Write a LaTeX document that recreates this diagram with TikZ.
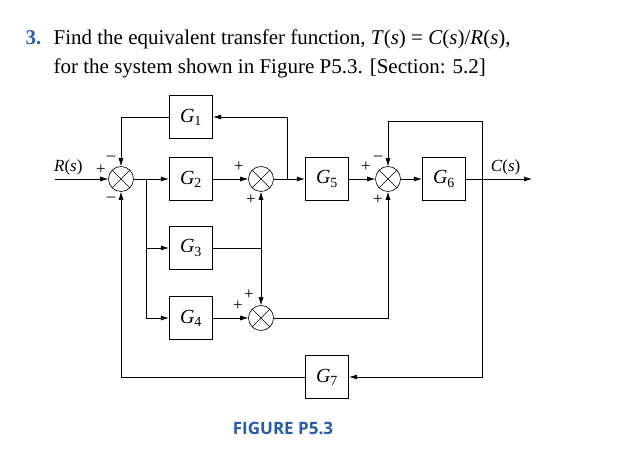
\documentclass[tikz,border=0pt]{standalone}
\usepackage{fontspec}
\setmainfont{Liberation Serif}
\newfontfamily\figsans{Open Sans}
\usetikzlibrary{positioning,arrows.meta}
\definecolor{headblue}{RGB}{38,92,170}
\newcommand{\gsub}[1]{\textit{G}\textsubscript{#1}}
\tikzstyle{block}=[draw,line width=1.4pt,minimum width=43pt,minimum height=43pt,font=\fontsize{20}{20}\selectfont]
\tikzstyle{sum}=[draw,circle,minimum size=25pt,inner sep=0pt,path picture={\draw (path picture bounding box.south west)--(path picture bounding box.north east) (path picture bounding box.north west)--(path picture bounding box.south east);}]
\tikzstyle{sig}=[-{Latex[length=8pt,width=5pt]},line width=0.6pt]
\tikzstyle{sgn}=[font=\fontsize{17}{17}\selectfont,inner sep=1pt]

\begin{document}
\begin{tikzpicture}[x=1pt,y=-1pt,line width=0.6pt]
	\useasboundingbox (0,0) rectangle (633,454);

	% question text
	\node[anchor=base west,font=\fontsize{21}{21}\selectfont,text=headblue] at (22,45) {\textbf{3.}};
	\node[anchor=base west,font=\fontsize{21}{21}\selectfont] at (50,45) {Find the equivalent transfer function, \textit{T}(\textit{s}) = \textit{C}(\textit{s})/\textit{R}(\textit{s}),};
	\node[anchor=base west,font=\fontsize{21}{21}\selectfont] at (50,74) {for the system shown in Figure P5.3. [Section: 5.2]};

	% blocks and summing junctions
	\node[sum] (s1) at (121,179) {};
	\node[block] (g1) at (191,117) {\gsub{1}};
	\node[block] (g2) at (191,179) {\gsub{2}};
	\node[block] (g3) at (191,248) {\gsub{3}};
	\node[block] (g4) at (191,318) {\gsub{4}};
	\node[sum] (s2) at (261,179) {};
	\node[sum] (s3) at (261,318) {};
	\node[block] (g5) at (327,179) {\gsub{5}};
	\node[sum] (s4) at (388,179) {};
	\node[block] (g6) at (444,179) {\gsub{6}};
	\node[block] (g7) at (327,377) {\gsub{7}};

	\coordinate (in) at (55,179);
	\coordinate (out) at (532,179);
	\coordinate (b1) at (146,179);
	\coordinate (b2) at (287,179);
	\coordinate (b3) at (482,179);
	\coordinate (j3) at (261,248);

	% forward paths
	\draw[sig] (in) -- node[above,pos=0.25,font=\fontsize{17}{17}\selectfont] {\textit{R}(\textit{s})} (s1);
	\draw[sig] (s1) -- (g2);
	\draw[sig] (b1) |- (g3);
	\draw[sig] (b1) |- (g4);
	\draw[sig] (g2) -- (s2);
	\draw[sig] (s2) -- (g5);
	\draw[sig] (g5) -- (s4);
	\draw[sig] (s4) -- (g6);
	\draw[sig] (g6) -- node[above,pos=0.6,font=\fontsize{17}{17}\selectfont] {\textit{C}(\textit{s})} (out);
	\draw (g3) -- (j3);
	\draw[sig] (j3) -- (s2);
	\draw[sig] (j3) -- (s3);
	\draw[sig] (g4) -- (s3);
	\draw[sig] (s3) -| (s4);

	% feedback paths
	\draw[sig] (b2) |- (g1);
	\draw[sig] (g1) -| (s1);
	\draw[sig] (b3) |- (388,121) -- (s4);
	\draw[sig] (b3) |- (g7);
	\draw[sig] (g7) -| (s1);

	% signs
	\node[sgn] at (101,170) {+};
	\node[sgn] at (111,158) {–};
	\node[sgn] at (111,199) {–};
	\node[sgn] at (239,167) {+};
	\node[sgn] at (251,200) {+};
	\node[sgn] at (249,295) {+};
	\node[sgn] at (238,306) {+};
	\node[sgn] at (366,167) {+};
	\node[sgn] at (378,158) {–};
	\node[sgn] at (378,200) {+};

	\node[font=\figsans\bfseries\fontsize{17}{17}\selectfont,text=headblue] at (283,428) {FIGURE P5.3};
\end{tikzpicture}
\end{document}
